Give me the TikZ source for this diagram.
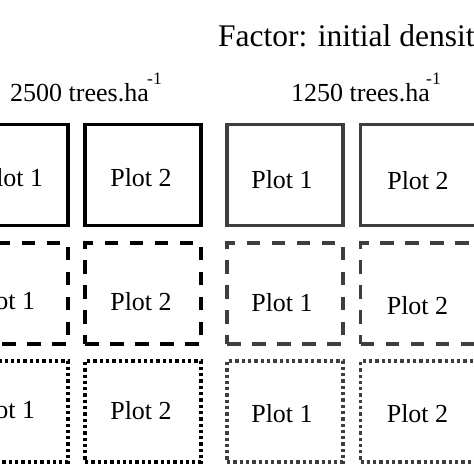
\documentclass[tikz,border=0pt]{standalone}
\usepackage{fontspec}
\setmainfont{Liberation Serif}
\definecolor{plotgray}{RGB}{62,62,62}
\begin{document}
\begin{tikzpicture}[x=1pt,y=-1pt,
  box/.style={rectangle,minimum width=116pt,minimum height=101pt,inner sep=0pt,outer sep=0pt},
  solidbox/.style={box,draw,line width=3.6pt},
  dashbox/.style={box,draw,line width=3.2pt,dash pattern=on 13.5pt off 11.5pt},
  dotbox/.style={box,draw,line width=3.3pt,dash pattern=on 3.3pt off 3pt},
  dark/.style={draw=black},
  grey/.style={draw=plotgray},
  plottxt/.style={inner sep=0pt,anchor=base,font=\fontsize{26}{30}\selectfont},
  headtxt/.style={inner sep=0pt,anchor=base west,font=\fontsize{31.5}{36}\selectfont},
  subtxt/.style={inner sep=0pt,anchor=base west,font=\fontsize{26}{30}\selectfont},
  suptxt/.style={inner sep=0pt,anchor=base west,font=\fontsize{17.5}{20}\selectfont}]
\useasboundingbox (0,0) rectangle (474,474);
\fill[white] (0,0) rectangle (474,474);
\clip (0,0) rectangle (474,474);

% header
\node[headtxt] (head) at (218,46) {Factor: initial density};
\node[subtxt] (d1) at (10,101.5) {2500 trees.ha};
\node[suptxt] (s1) at (147,84) {-1};
\node[subtxt] (d2) at (291,101.5) {1250 trees.ha};
\node[suptxt] (s2) at (426,84) {-1};

% row 1 (solid)
\node[solidbox,dark] (b11) at (10,175) {};
\node[solidbox,dark] (b12) at (143,175) {};
\node[solidbox,grey] (b13) at (285,175) {};
\node[solidbox,grey] (b14) at (418.5,175) {};
% row 2 (dashed)
\node[dashbox,dark] (b21) at (10,293.5) {};
\node[dashbox,dark] (b22) at (143,293.5) {};
\node[dashbox,grey] (b23) at (285,293.5) {};
\node[dashbox,grey] (b24) at (418.5,293.5) {};
% row 3 (dotted)
\node[dotbox,dark] (b31) at (10,411.5) {};
\node[dotbox,dark] (b32) at (143,411.5) {};
\node[dotbox,grey] (b33) at (285,411.5) {};
\node[dotbox,grey] (b34) at (418.5,411.5) {};

% labels
\node[plottxt] (t11) at (12.5,186.5) {Plot 1};
\node[plottxt] (t12) at (141,186.5) {Plot 2};
\node[plottxt] (t13) at (282,188.5) {Plot 1};
\node[plottxt] (t14) at (418,189) {Plot 2};
\node[plottxt] (t21) at (4.5,309.5) {Plot 1};
\node[plottxt] (t22) at (141,310) {Plot 2};
\node[plottxt] (t23) at (282,311.5) {Plot 1};
\node[plottxt] (t24) at (417.5,314) {Plot 2};
\node[plottxt] (t31) at (4.5,418.5) {Plot 1};
\node[plottxt] (t32) at (141,419.5) {Plot 2};
\node[plottxt] (t33) at (282,422.5) {Plot 1};
\node[plottxt] (t34) at (417.5,422.5) {Plot 2};
\end{tikzpicture}
\end{document}
